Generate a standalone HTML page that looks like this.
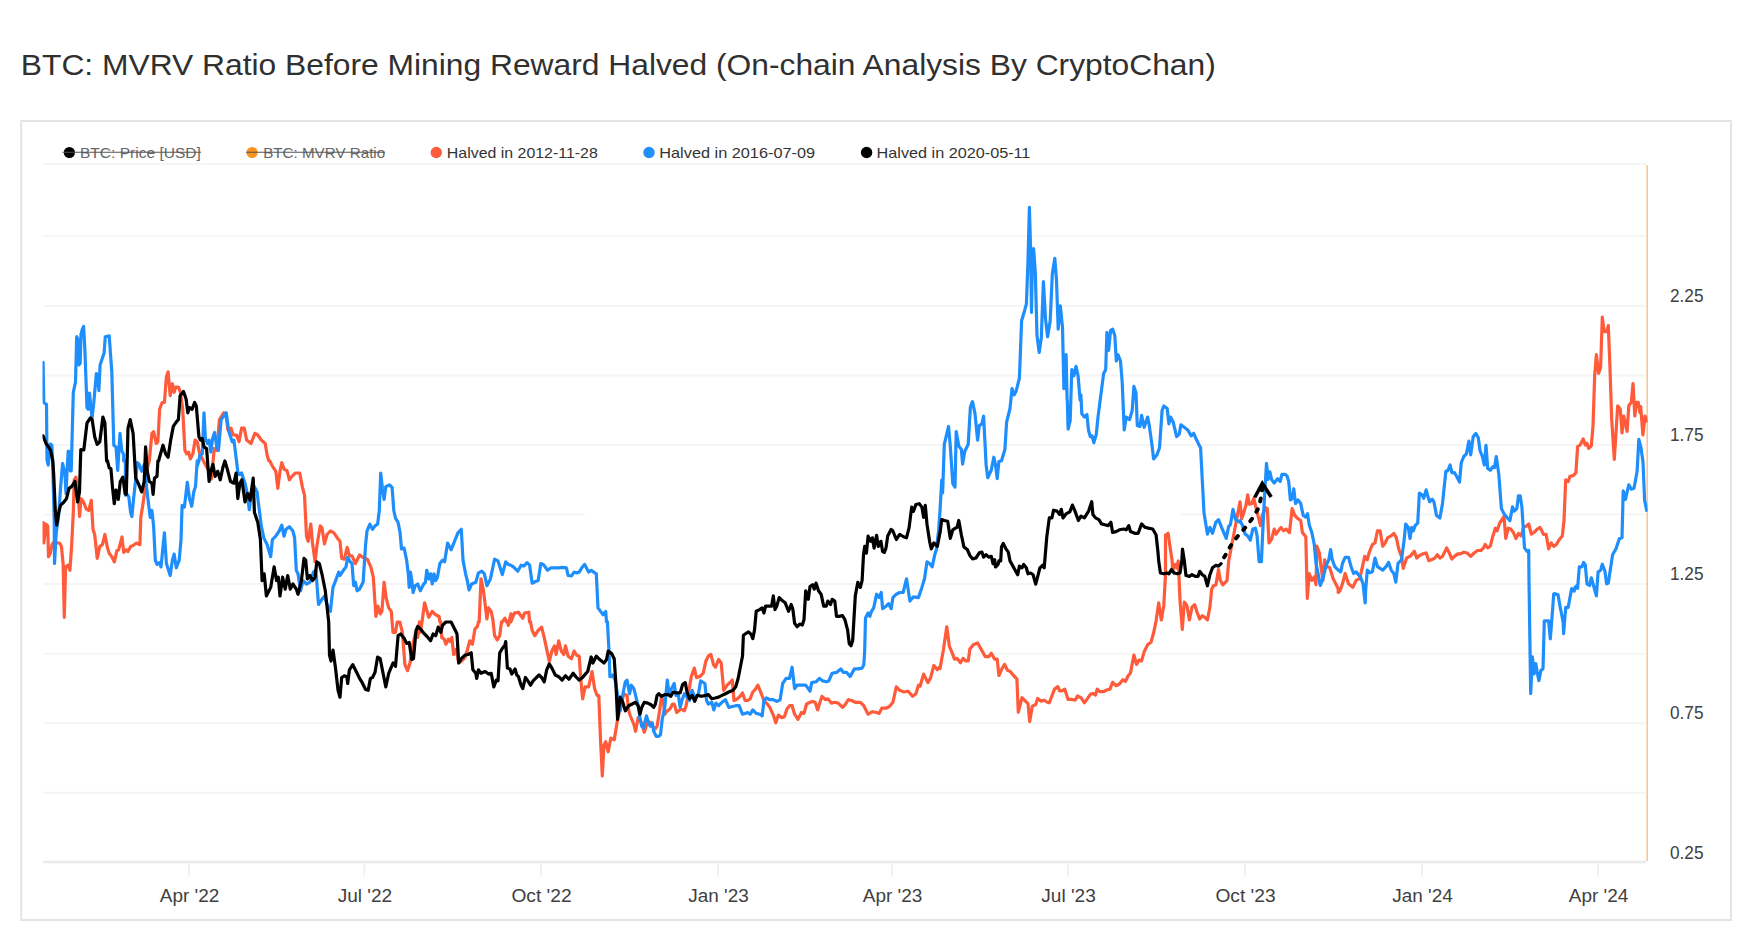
<!DOCTYPE html>
<html><head><meta charset="utf-8"><style>
html,body{margin:0;padding:0;background:#fff;width:1756px;height:944px;overflow:hidden}
svg{position:absolute;left:0;top:0;font-family:"Liberation Sans",sans-serif}
</style></head><body>
<svg width="1756" height="944" viewBox="0 0 1756 944">
<text x="20.8" y="75" font-size="30" fill="#303030" textLength="1195" lengthAdjust="spacingAndGlyphs">BTC: MVRV Ratio Before Mining Reward Halved (On-chain Analysis By CryptoChan)</text>
<rect x="21.2" y="121" width="1709.8" height="799" fill="none" stroke="#e4e4e4" stroke-width="2"/>
<g stroke="#f5f5f5" stroke-width="2"><line x1="43" x2="1646" y1="792.8" y2="792.8"/><line x1="43" x2="1646" y1="723.2" y2="723.2"/><line x1="43" x2="1646" y1="653.7" y2="653.7"/><line x1="43" x2="1646" y1="584.1" y2="584.1"/><line x1="43" x2="1646" y1="445.0" y2="445.0"/><line x1="43" x2="1646" y1="375.4" y2="375.4"/><line x1="43" x2="1646" y1="305.9" y2="305.9"/><line x1="43" x2="1646" y1="236.3" y2="236.3"/><line x1="43" x2="1646" y1="164" y2="164"/><line x1="43" x2="585" y1="514.5" y2="514.5"/><line x1="1180" x2="1646" y1="514.5" y2="514.5"/></g>
<line x1="43" x2="1646" y1="862" y2="862" stroke="#eaeaea" stroke-width="2.4"/>
<g stroke="#f1f1f1" stroke-width="2"><line x1="189" x2="189" y1="862" y2="876"/><line x1="364.4" x2="364.4" y1="862" y2="876"/><line x1="541" x2="541" y1="862" y2="876"/><line x1="718" x2="718" y1="862" y2="876"/><line x1="892" x2="892" y1="862" y2="876"/><line x1="1068" x2="1068" y1="862" y2="876"/><line x1="1245" x2="1245" y1="862" y2="876"/><line x1="1422" x2="1422" y1="862" y2="876"/><line x1="1598" x2="1598" y1="862" y2="876"/></g>
<line x1="1647.2" x2="1647.2" y1="165" y2="861" stroke="#f9c081" stroke-width="1.4"/>
<g font-size="17.5" fill="#404040"><text x="189.5" y="902" text-anchor="middle" textLength="59.5" lengthAdjust="spacingAndGlyphs">Apr '22</text><text x="364.9" y="902" text-anchor="middle" textLength="54.5" lengthAdjust="spacingAndGlyphs">Jul '22</text><text x="541.5" y="902" text-anchor="middle" textLength="60.2" lengthAdjust="spacingAndGlyphs">Oct '22</text><text x="718.5" y="902" text-anchor="middle" textLength="60.5" lengthAdjust="spacingAndGlyphs">Jan '23</text><text x="892.5" y="902" text-anchor="middle" textLength="59.5" lengthAdjust="spacingAndGlyphs">Apr '23</text><text x="1068.5" y="902" text-anchor="middle" textLength="54.5" lengthAdjust="spacingAndGlyphs">Jul '23</text><text x="1245.5" y="902" text-anchor="middle" textLength="60.2" lengthAdjust="spacingAndGlyphs">Oct '23</text><text x="1422.5" y="902" text-anchor="middle" textLength="60.5" lengthAdjust="spacingAndGlyphs">Jan '24</text><text x="1598.5" y="902" text-anchor="middle" textLength="59.5" lengthAdjust="spacingAndGlyphs">Apr '24</text><text x="1670" y="719.2" textLength="33.5" lengthAdjust="spacingAndGlyphs">0.75</text><text x="1670" y="580.1" textLength="33.5" lengthAdjust="spacingAndGlyphs">1.25</text><text x="1670" y="441.0" textLength="33.5" lengthAdjust="spacingAndGlyphs">1.75</text><text x="1670" y="301.9" textLength="33.5" lengthAdjust="spacingAndGlyphs">2.25</text><text x="1670" y="858.5" textLength="33.5" lengthAdjust="spacingAndGlyphs">0.25</text></g>
<g font-size="15" fill="#333">
 <circle cx="69.4" cy="152.5" r="5.6" fill="#000"/>
 <text x="80" y="158" fill="#666" textLength="120.8" lengthAdjust="spacingAndGlyphs">BTC: Price [USD]</text>
 <line x1="62.4" x2="201" y1="152.3" y2="152.3" stroke="#555" stroke-width="1.1"/>
 <circle cx="252.1" cy="152.5" r="5.6" fill="#f7931e"/>
 <text x="263.2" y="158" fill="#666" textLength="122" lengthAdjust="spacingAndGlyphs">BTC: MVRV Ratio</text>
 <line x1="246" x2="385" y1="152.3" y2="152.3" stroke="#555" stroke-width="1.1"/>
 <circle cx="436.3" cy="152.5" r="5.7" fill="#fd5c40"/>
 <text x="446.8" y="158" textLength="151" lengthAdjust="spacingAndGlyphs">Halved in 2012-11-28</text>
 <circle cx="649" cy="152.5" r="5.7" fill="#238ffb"/>
 <text x="659.3" y="158" textLength="155.8" lengthAdjust="spacingAndGlyphs">Halved in 2016-07-09</text>
 <circle cx="866.6" cy="152.5" r="5.7" fill="#000"/>
 <text x="876.6" y="158" textLength="153.8" lengthAdjust="spacingAndGlyphs">Halved in 2020-05-11</text>
</g>
<defs><clipPath id="pc"><rect x="42.5" y="150" width="1605" height="720"/></clipPath></defs>
<g fill="none" stroke-width="3.2" stroke-linejoin="round" stroke-linecap="round" clip-path="url(#pc)">
<path d="M43.4,522.5 L43.8,543 L46,524.2 L47.7,525.9 L48.5,556.7 L50.3,553.3 L52,544.7 L54.5,541.3 L57.1,543 L59.6,543 L61.4,546.4 L63.1,563.5 L64.3,617.3 L65.6,566.9 L68.2,565.2 L69.9,570.3 L71.6,546.4 L73.3,512.3 L74.2,479.8 L75.9,477.2 L78.4,495.2 L79.6,516.5 L81,498.6 L83.6,502 L86.1,508.8 L88.7,510.5 L91.3,500.3 L93,529.3 L94.7,534.5 L97.2,558.4 L99.8,546.4 L102.4,544.7 L104.9,534.5 L107.5,548.1 L109.2,553.3 L111.8,556.7 L114.3,561.8 L116.9,550.7 L118.6,549.8 L122,537 L123.7,552.4 L126.3,549.8 L128,551.6 L130.6,546.4 L133.1,545.6 L136.5,543 L139.9,544.7 L140.8,517.4 L142.5,507.1 L144.2,495.2 L146.8,469.5 L149.3,460.9 L149.3,461 L151.9,433.3 L153.6,431.6 L156.2,443.5 L157.9,441.8 L159.6,409.3 L162.2,402.5 L164.4,402.5 L166.4,376.9 L168.1,371.8 L170.2,395.7 L172.4,383.7 L174.1,392.3 L175.8,387.1 L178.4,387.1 L180.4,392.3 L182.7,409.3 L184.9,450.4 L186.6,453.8 L188.6,452.1 L190.4,458.9 L192.9,453.8 L195.1,440.1 L197.2,441.8 L199.7,453.8 L205,464 L209.5,472 L211.3,479 L214.3,448.6 L216.8,450.4 L219.4,419.6 L223.7,412.8 L226.2,416.2 L227.9,429.8 L231,428.1 L233.1,435 L236.5,435 L239,441.8 L241.6,428.1 L244.2,428.1 L246.7,440.1 L251,443.5 L254.9,433.3 L257.8,435 L261.3,440.1 L265.2,443.5 L267.2,455.5 L268.9,461 L269.8,460.9 L272.4,466.1 L275.8,471.3 L277.8,488.3 L280,471.3 L281.8,462.7 L284.3,469.5 L286.9,470.4 L289.4,479.8 L292,476.4 L295.4,473 L299.7,473 L302.3,486.6 L304.5,495.2 L306.5,536.2 L308.2,541.3 L310.8,524.2 L312.5,543 L315.1,561.8 L316.8,546.4 L320.2,525.9 L321.9,527.6 L324.5,543.9 L327,534.5 L330.4,531 L333.9,532.8 L337.3,537.9 L340,541.3 L341.7,558.4 L344.3,559.2 L347.2,547.3 L349.4,555.8 L352,555.8 L355.4,563.5 L359.6,555 L363.1,557.5 L367.3,559.2 L370.8,566.9 L373.3,577.2 L375.9,616.5 L377.9,606.2 L380.2,613.9 L381.9,611.4 L384.1,582.3 L386.1,597.7 L388.7,607.9 L391.3,611.4 L392.1,622 L393,632.3 L395.5,632.3 L397.2,622 L399.8,622 L402.4,632.3 L404.9,664.7 L407.5,670.7 L410,663 L412.6,645.9 L415.2,634 L417.7,637.4 L419.4,621.9 L420.3,632.3 L422,622 L424.6,602.8 L428.8,617.3 L432.3,611.4 L435.7,614.8 L439.1,616.5 L439.9,622 L440.8,621.9 L441.7,637.4 L444.2,639.1 L445.9,644.2 L448.5,639.1 L450.2,641.6 L451.9,637.4 L453.6,654.5 L456.2,649.3 L458.7,663 L461.3,661.3 L464.7,657.9 L467.3,650.2 L469.8,640.8 L472.4,644.2 L475,628.8 L477.5,626.3 L478.4,621.9 L479.2,622 L481,578.9 L483.5,590.8 L486.9,619 L488.6,607.9 L491.2,611.4 L492.9,619.9 L494.6,635.7 L497.2,639.9 L499.7,635.7 L501.5,621.9 L502.3,622 L504.9,618.2 L506.6,622 L507.4,621.9 L508.3,625.4 L510.9,613.9 L510.9,622 L514.3,613.1 L518.5,612.2 L520.2,614.8 L522.8,618.2 L524.5,613.1 L528.8,612.2 L529.6,622 L530.5,621.9 L532.2,630.5 L534.8,635.7 L538.2,630.5 L541.6,627.1 L544.2,637.4 L546.7,649.3 L549.3,661.3 L551.9,651 L554.4,645.9 L556.1,654.5 L558.7,640.8 L561.3,651 L563.8,654.5 L565.5,645.9 L568.1,656.2 L571.5,658.7 L574.1,651 L576.6,655.3 L579.2,656.2 L580.9,680.1 L582.6,698.9 L585.2,686.9 L588.6,686.9 L592,671.5 L594.6,688.6 L597.1,695.5 L598.8,695.5 L600.6,741.6 L602.3,775.8 L604,745 L605.7,741.6 L608.2,751.8 L610.8,738.2 L614.2,739.9 L617.6,719.4 L621.1,705.7 L623.6,693.8 L627,695.5 L628.7,710.8 L630.4,716 L633.9,724.5 L635.6,731.3 L638.1,717.7 L640,719.4 L640,719.3 L642.6,726.2 L644.3,732.2 L646.8,724.5 L649.4,721.9 L652,726.2 L655.4,728.7 L657.1,726.2 L659.6,710.8 L661.4,697.1 L663.1,698.8 L664.8,714.2 L667.3,710.8 L669.9,709.1 L672.5,704 L674.2,704 L676.7,712.5 L681,709.1 L684.4,710.8 L686.1,705.7 L688.7,692 L691.3,676.6 L694.3,668.1 L696.4,677.5 L699.8,676.6 L703.2,673.2 L705.8,661.3 L708.3,656.1 L710.9,654.4 L713.5,664.7 L715.5,667.2 L718.6,659.5 L721.2,663 L723.7,690.3 L727.1,685.2 L730.6,681.8 L732.3,680 L734,700.5 L737.4,698.8 L740.8,695.4 L742.5,692.9 L745.1,700.5 L747.6,700.5 L750.2,698.8 L752.8,692 L755.3,689.4 L757.9,685.2 L761.3,693.7 L763.9,700.5 L767.3,704 L769.8,707.4 L773.3,715.1 L775.8,722.8 L778.4,715.1 L781.8,717.6 L784.4,716.8 L786.9,709.1 L789.5,705.7 L792.1,705.7 L794.6,714.2 L798,719.3 L801.5,712.5 L804,713.4 L806.6,704 L810,702.3 L812.6,701.4 L815.1,702.3 L817.7,709.9 L819.4,704 L822,696.3 L825.4,699.7 L827.9,698.8 L831.4,703.1 L834.8,702.3 L838.2,703.1 L842.5,707.4 L845,704.8 L848.4,699.7 L851.9,700.5 L855.3,702.3 L860.4,702.3 L863.8,705.7 L868.1,714.2 L872.4,711.7 L876.6,712.5 L879.2,713.4 L881.8,708.2 L886,708.2 L889.4,706.5 L892.9,702.3 L896.3,686.9 L899.7,690.3 L904,692 L908.2,691.2 L912.5,696.3 L915.9,693.7 L918.5,685.2 L920.2,686 L923.6,674.1 L927.9,682.6 L930.4,678.3 L933.9,665.5 L937.3,669.8 L940,666.4 L940,668.6 L943.4,649.8 L946.8,626.8 L949.4,646.4 L952,652.4 L954.5,659.2 L957.1,658.4 L960.5,662.7 L963.1,658.4 L965.6,660.9 L968.2,660.9 L969.9,649 L973.3,644.7 L977.6,643 L981,649 L985.3,656.7 L988.7,656.7 L991.3,653.3 L994.7,659.2 L997.2,659.2 L998.9,675.5 L1001.5,669.5 L1004.6,664.4 L1007.5,670.3 L1010,671.2 L1013.5,675.5 L1016.9,678.9 L1018.3,712.2 L1022,697.7 L1025.4,701.1 L1028,703.7 L1029.7,721.6 L1032.3,706.2 L1035.7,704.5 L1037.7,698.5 L1040.8,701.1 L1044.2,700.2 L1046.8,702 L1049.3,702.8 L1051.9,696 L1054.5,689.1 L1057.9,686.6 L1059.6,690.8 L1062.2,690.8 L1064.7,689.1 L1068.1,699.4 L1071.6,699.4 L1075,700.2 L1077.5,696 L1081,697.7 L1084.4,702.8 L1086.9,699.4 L1090.4,694.3 L1092.9,693.4 L1095.5,695.1 L1097.2,689.1 L1099.7,691.7 L1103.2,691.7 L1106.6,690 L1110,689.1 L1112.6,682.3 L1116,685.7 L1119.4,684 L1122.8,679.7 L1125.4,681.5 L1127.9,676.3 L1130.5,672.9 L1133.9,655 L1136.5,664.4 L1139,660.1 L1141.6,660.9 L1144.2,651.6 L1147.6,644.7 L1151,642.2 L1153.6,632.8 L1156.1,620.8 L1158.7,602.9 L1161.3,619.9 L1163.8,605.4 L1165.5,574.7 L1165.5,535 L1168.1,533.3 L1169.8,545.2 L1172,559.7 L1172.7,570.4 L1174.9,564.4 L1176.6,567.8 L1178.3,561 L1180,600.3 L1182.3,629.3 L1184.3,602 L1186.9,605.4 L1189.4,619.9 L1192,607.1 L1194.6,604.6 L1197.1,612.3 L1199.7,619.1 L1202.3,615.7 L1204.8,617.4 L1207.4,619.9 L1209.9,607.1 L1211.7,589.2 L1213.4,585.8 L1215.9,584.9 L1218.5,569.5 L1220.2,579.8 L1222.8,584.9 L1227,580.6 L1228.7,561 L1240,501.8 L1241.7,518.8 L1243.4,513.7 L1246,505.2 L1247.7,494.9 L1249.4,504.3 L1252,503.5 L1253.7,498.3 L1256.2,508.6 L1258.8,518.8 L1260.5,525.7 L1262.2,515.4 L1265.6,507.7 L1267.3,508.6 L1269,542.8 L1271.6,539.3 L1274.2,529.1 L1275.9,534.2 L1278.4,530.8 L1281,527.4 L1283.6,530.8 L1286.1,529.1 L1289.5,532.5 L1292.1,508.6 L1294.7,515.4 L1298.1,518.8 L1300.7,520.6 L1302.4,532.5 L1305.8,536.8 L1307.3,598.5 L1309.2,573.5 L1311.8,580.4 L1314.3,576.9 L1316,584.6 L1316.9,546.2 L1319.4,553 L1321.2,568.4 L1322.9,580.4 L1324.6,559.8 L1327.1,566.7 L1329.7,567.5 L1333.1,578.6 L1335.7,583.8 L1338.2,588.9 L1338.2,592.5 L1339.9,590.9 L1342.5,583.8 L1345.1,573.5 L1348.5,583.8 L1352.8,587.2 L1356.2,580.4 L1359.6,578.6 L1361.3,571.8 L1364.7,556.4 L1367.3,559.8 L1369,553 L1372.4,544.5 L1375,542.8 L1377.5,530.8 L1380.1,530.8 L1382.7,546.2 L1385.2,542.8 L1387.8,537.6 L1391.2,535.9 L1393.8,533.4 L1396.3,537.6 L1398.9,549.6 L1401.5,556.4 L1403.2,568.4 L1406.6,558.1 L1410.9,555.6 L1414.3,551.3 L1416.8,558.1 L1419.4,555.6 L1422.8,553.9 L1426.2,553 L1428.8,560.7 L1431.4,559.8 L1434.8,558.1 L1437.3,554.7 L1439.9,558.1 L1442.5,556.4 L1446.7,547.9 L1449.3,553 L1451.9,559 L1454.4,556.4 L1457.8,553.9 L1460.4,553.9 L1463.8,552.2 L1467.2,553 L1470.7,556.4 L1474.1,553 L1477.5,550.5 L1480.9,550.5 L1483.5,547.9 L1485.2,544.5 L1487.7,547.9 L1490.3,546.2 L1492.9,535.9 L1495.4,528.2 L1497.1,530.8 L1499.7,523.1 L1504,516.3 L1505.7,538.5 L1508.2,528.2 L1510.8,529.1 L1513.4,532.5 L1515.9,538.5 L1518.5,533.4 L1521.1,535.9 L1523.6,527.4 L1527,525.7 L1528.7,524 L1531.3,534.2 L1533.9,532.5 L1537.3,529.1 L1540,527.4 L1543.5,534.3 L1546.1,534.3 L1548.6,548.8 L1551.2,542.9 L1553.7,546.3 L1556.3,544.6 L1558.8,540.3 L1562.3,536.1 L1564,520.7 L1565.7,479.8 L1568.2,481.5 L1569.9,476.4 L1573.3,475.5 L1575.9,472.9 L1577.6,446.7 L1580.2,445 L1583.2,439 L1585.3,445 L1587,443.3 L1588.7,448.4 L1591.3,445.8 L1593,426.2 L1594.7,375.1 L1596.4,354.6 L1598.6,373.3 L1600.6,367.4 L1602.3,317.1 L1604.1,331.6 L1606.6,331.6 L1608.3,325.6 L1610,368.2 L1611.7,419.4 L1614.3,459.5 L1617.7,405.8 L1620.3,409.2 L1622,433 L1623.7,416 L1627.1,431.3 L1628.8,405.8 L1631.3,402.3 L1633,383.6 L1634.8,416 L1636.5,402.3 L1638.2,402.3 L1639.9,412.6 L1640.7,406.6 L1642.9,434.8 L1645,416 L1647,421.1" stroke="#ff5a3a"/>
<path d="M43.1,362.4 L43.8,402.5 L45.1,403.4 L46.2,404.6 L46.5,404.5 L47,460 L48.2,465 L50.4,444 L51.9,445.5 L52.8,465 L54.2,520 L54.5,563.5 L56.2,532.8 L58.5,517.4 L60.5,488.3 L62.6,463.6 L64.8,473 L66,493.5 L67.3,466.1 L68.2,451.2 L69.9,452.1 L70.4,471 L71.2,471 L73.3,392.3 L75.5,382 L76.7,336.7 L77.9,339.3 L79,364.9 L80.2,363.2 L81,334.2 L82.4,329 L83.6,326.5 L84.8,347.8 L87,407.6 L88.2,409.3 L89.5,393.1 L91.3,411.1 L92.1,417.9 L93.8,402.5 L95,388.8 L96.4,373.5 L97.7,376.9 L98.9,390.6 L100.1,364.9 L102.4,358.1 L104.1,353 L105.3,336.7 L109.2,335.9 L111.8,371.8 L113.8,445.2 L116,446.9 L117.7,470.4 L120,433.3 L121.7,450.4 L123.7,454.6 L123.7,461 L125.4,460.9 L125.4,495.2 L127.1,494.3 L128.8,496.9 L130.6,512.3 L131.9,516.5 L133.6,498.6 L135.7,479.8 L137.4,462.7 L139.1,464.4 L141.7,471.3 L144.2,464.4 L145.9,481.5 L148.5,503.7 L150.2,517.4 L151.9,510.5 L153.6,525.9 L155.3,560.1 L157,564.4 L159.6,562.7 L161,566.9 L162.7,549.8 L164.4,532.8 L166.4,563.5 L170.2,575.5 L172.4,560.1 L174.1,554.1 L176.3,567.8 L179.2,560.1 L181,539.6 L182.1,505.4 L184.4,507.1 L187.3,482.4 L189.5,498.6 L191.7,506.3 L193.8,491.8 L195.5,486.6 L197.2,460.9 L197.2,466.1 L198.9,461 L199.7,455.5 L202.3,453.8 L204,412.8 L205.4,438.4 L207.4,443.5 L209.1,440.1 L210.9,452.1 L212.6,438.4 L214.6,432.4 L216.8,446.9 L218.5,450.4 L221.1,419.6 L223.7,416.2 L226.2,412.8 L228.8,431.6 L232.2,441.8 L233.9,440.1 L236.5,460.9 L236.5,461 L238.2,474.7 L241.6,473 L245,483.2 L247.6,495.2 L249.3,509.7 L251.9,490 L254.4,486.6 L257,491.8 L258.7,505.4 L261.3,525.9 L263.8,537.9 L267.2,544.7 L270.7,556.7 L272.4,539.6 L275.8,536.2 L279.2,531 L281.8,525.1 L284,536.2 L286,529.3 L289.4,526.8 L292.9,531 L294.6,537.9 L296.3,570.3 L298,573.8 L300.6,590.8 L303.1,580.6 L306.5,584 L309.9,582.3 L313.4,572.1 L315.9,570.3 L318.5,604.5 L321.9,599.4 L324.5,596 L327,604.5 L330.4,611.4 L333,587.4 L335.6,580.6 L338.7,572.1 L340,575.5 L343.4,570.3 L346,566.9 L347.7,557.5 L350.3,561.8 L352,563.5 L353.7,585.7 L355.4,582.3 L357.1,590.8 L359.6,589.1 L363.1,582.3 L365.6,544.7 L367,531 L369.9,524.2 L372.5,529.3 L375,525.9 L377.6,524.2 L379.3,510.5 L380.7,473 L382.4,488.3 L384.1,499.4 L385.8,486.6 L389.5,484.9 L392.1,487.5 L393.8,510.5 L395.5,518.2 L398.1,522.5 L400.1,532.8 L401.5,549 L404.1,548.1 L406.6,560.1 L408.3,573.8 L409.2,587.4 L410.4,572.1 L411.8,580.6 L413.1,592.6 L415.2,585.7 L417.7,584 L420.3,590.8 L423.7,584 L425.4,582.3 L426.8,570.3 L428.8,578.9 L430.6,573.8 L432.3,584 L434,573.8 L435.7,580.6 L437.4,577.2 L439.9,563.5 L442.5,560.1 L444.6,561.8 L447.6,543 L451.1,549.8 L454.5,541.3 L457.9,532.8 L461.3,529.3 L463,560.1 L465.6,573.8 L467.3,580.6 L469,590 L471.6,584 L475.8,582.3 L478.4,572.9 L481.8,571.2 L484.4,573.8 L486.9,585.7 L490.4,578.9 L494.6,559.2 L498,560.9 L502.3,574.6 L505.7,561.8 L508.3,564.4 L510.9,565.2 L513.4,566.9 L517.7,571.2 L521.1,565.2 L523.7,566.1 L527.1,562.7 L529.6,565.2 L532.2,583.2 L535.6,581.5 L538.2,580.6 L540.8,563.5 L543.3,564.4 L547.6,570.3 L551,567.8 L554.4,567.8 L558.7,567.8 L562.1,567.3 L566.4,567.8 L568.1,575.5 L571.5,575.8 L574.1,572.1 L576.6,572.9 L579.2,572.1 L581.8,567.8 L584.7,564.4 L588.6,572.1 L591.2,570.3 L593.7,572.1 L596.3,573.8 L598,607.9 L600.6,611.4 L603.1,614.8 L605.7,611.4 L606.5,622 L607.4,621.9 L609.1,652.8 L609.9,676.7 L612.5,675 L615.1,680.1 L616.8,690.3 L620.2,710.8 L623.6,690.3 L625.3,681.8 L627,680.1 L629.6,693.8 L631.3,685.2 L633.9,688.6 L636.4,698.9 L639,709.1 L640,719.4 L640,717.6 L641.7,726.2 L643.4,727.9 L646.5,715.9 L648.5,722.8 L650.3,726.2 L652.3,722.8 L653.7,731.3 L656.2,736.4 L658.8,736.4 L660.5,734.7 L662.2,719.3 L664.8,707.4 L667.3,680 L669,693.7 L671.6,688.6 L674.2,683.5 L675.9,695.4 L678.4,695.4 L680.2,707.4 L681.9,700.5 L684.4,693.7 L687,697.1 L689.5,700.5 L692.1,690.3 L694.7,697.1 L698.1,695.4 L700.7,680.9 L704.9,683.5 L706.6,700.5 L708.3,704 L711.8,702.3 L713.8,709.9 L716,703.1 L718.6,705.7 L722,702.3 L725.4,699.7 L728.8,707.4 L732.3,706.5 L735.7,705.7 L739.1,705.7 L742.5,714.2 L745.1,713.4 L747.6,712.5 L750.2,714.2 L752.8,709.9 L756.2,713.4 L759.6,714.2 L762.2,715.9 L763.9,700.5 L766.4,698 L769.8,699.7 L773.3,699.7 L776.7,701.4 L780.1,699.7 L782.7,683.5 L786.1,678.3 L789.5,678.3 L792.1,667.2 L794.6,688.6 L797.2,685.2 L801.5,685.2 L805.7,685.2 L808.3,688.6 L810,691.2 L811.7,682.6 L816,681.8 L819.4,678.3 L822.8,680.9 L826.2,681.8 L828.8,680.9 L832.2,673.2 L836.5,672.4 L840.8,668.9 L843.3,672.4 L846.7,672.4 L850.1,676.6 L854.4,668.9 L857.8,668.9 L862.1,668.1 L863.8,664.7 L864.7,651 L865.5,618.1 L868.1,613 L869.8,616.4 L871.5,611.3 L873.7,607.9 L876.6,594.2 L879.2,597.6 L881.2,592.5 L882.6,608.7 L886,606.2 L888.6,603.6 L891.2,608.7 L892.9,597.6 L896.3,594.2 L899.7,592.5 L903.1,592.5 L906.5,578.8 L909.9,601.1 L913.4,596.8 L918.5,597.6 L921.9,587.4 L924.5,578.8 L927,561.8 L929.6,563.5 L932.2,566.9 L934.7,554.9 L936.4,549.6 L938.6,530.4 L940.1,509.6 L941.7,480 L942.6,493 L944.3,444.4 L948.5,426.5 L950.3,446.1 L952.8,483.7 L955,487.1 L956.2,431.6 L958.8,446.1 L961.4,449.5 L962.6,464.1 L964.8,451.3 L968.2,444.4 L970.4,406.8 L972.5,401.7 L975,413.7 L977.6,440.2 L979.3,425.6 L981.9,423.9 L983.6,416.2 L986.1,464.9 L987.8,477.7 L991.3,470 L993.8,457.2 L995.5,464.9 L997.2,478.6 L998.9,461.5 L1001.5,460.7 L1004.9,449.5 L1006.6,422.2 L1010,408.5 L1012,388.6 L1014.2,394.9 L1016.3,390.7 L1019.4,378 L1021.6,320.8 L1024.7,310.2 L1026.4,303.8 L1027.9,263.6 L1029.4,207.4 L1030.7,253 L1031.5,312.3 L1032.6,250.8 L1033.6,248.7 L1035.3,272 L1037,335.6 L1039.2,352.5 L1041.3,337.7 L1043.4,281.6 L1045.5,318.6 L1047.6,336.7 L1050.2,320.8 L1052.3,274.2 L1054.8,258.3 L1056.5,280.5 L1058.2,329.2 L1060.3,305.9 L1062.5,327.1 L1063.9,388.6 L1066.1,354.7 L1067.1,400 L1067.3,400 L1068.1,429 L1070.2,420.5 L1071.8,369.5 L1073.9,375.8 L1076,366.3 L1078.1,375.8 L1080.1,400 L1080.9,394.9 L1081.8,413.7 L1084.4,417.1 L1086.9,414.5 L1088.6,430.8 L1090.4,436.7 L1092.1,435.9 L1093.8,442.7 L1096.3,434.2 L1098,417.1 L1101.4,390.7 L1103.6,373.7 L1105.7,369.5 L1106.9,332.4 L1108.6,350.4 L1110.6,330.3 L1112.7,329.2 L1114.8,335.6 L1116.3,361 L1118,354.7 L1120.5,361 L1122.2,382.2 L1124.2,429.9 L1126.2,417.1 L1129.6,419.6 L1132.2,410.3 L1133.9,386.4 L1136,392.8 L1137.3,425.6 L1139.9,426.5 L1141.6,415.4 L1144.2,427.3 L1147.6,417.1 L1149.3,425.6 L1151.9,444.4 L1153.6,458.9 L1157,454.7 L1159.5,447.8 L1162.1,410.3 L1163.8,406 L1167.2,408.5 L1168.9,423.9 L1170.7,417.1 L1173.2,422.2 L1176.6,436.7 L1179.2,434.2 L1180.9,424.8 L1184.3,427.3 L1187.7,429.9 L1191.2,435.9 L1193.7,433.3 L1196.3,439.3 L1198.8,444.4 L1200.6,447.8 L1204,512.8 L1207.4,534.1 L1209.9,527.3 L1212.5,533.3 L1215.9,522.2 L1218.5,519.6 L1221.9,528.1 L1226.2,538.4 L1228.7,526.4 L1230.4,524.7 L1233,509.3 L1235.6,519.6 L1238.1,521.3 L1240,522.2 L1240,520.6 L1242.6,525.7 L1245.1,534.2 L1247.7,535.9 L1250.3,540.2 L1252.8,529.1 L1255.4,528.2 L1257.1,535.9 L1259.1,561.6 L1261.4,561.6 L1263.1,524 L1264.8,491.5 L1266.5,463.3 L1268.2,479.5 L1269.9,471.9 L1271.6,479.5 L1274.2,483 L1277.6,478.7 L1280.2,481.3 L1281.9,474.4 L1285.3,474.4 L1287,476.1 L1288.7,481.3 L1290.4,500 L1292.1,498.3 L1293.8,488.9 L1295.5,503.5 L1298.1,500 L1300.7,503.5 L1303.2,515.4 L1305.8,517.1 L1307.5,513.7 L1309.2,524.8 L1311.8,532.5 L1314.3,544.5 L1316,563.3 L1317.7,571.8 L1320.3,585.5 L1322.9,578.6 L1325.4,568.4 L1327.1,563.3 L1328.8,559.8 L1330.6,549.6 L1332.3,559.8 L1334.8,566.7 L1338.2,570.1 L1340.8,571.8 L1342.5,563.3 L1345.1,557.3 L1348.5,557.3 L1351.1,566.7 L1353.6,573.5 L1356.2,571.8 L1358.7,575.2 L1360.5,576.9 L1363,583.8 L1365.2,603 L1365.6,590.9 L1367.3,570.1 L1369.8,572.7 L1372.4,571.8 L1375,558.1 L1377.5,566.7 L1380.1,568.4 L1382.7,570.1 L1386.1,566.7 L1388.6,562.4 L1391.2,570.1 L1393.8,573.5 L1395.8,582.1 L1398,563.3 L1401.5,559.8 L1404,541.1 L1405.7,524 L1408.3,527.4 L1410,538.5 L1411.7,527.4 L1413.4,530.8 L1415.1,525.7 L1417.7,523.1 L1419.4,493.2 L1422,494.9 L1423.7,498.3 L1426.2,489.8 L1427.9,496.6 L1429.6,501.8 L1432.2,499.2 L1433.9,501.8 L1436.5,515.4 L1439.9,518 L1442.5,503.5 L1445.9,471 L1447.6,471 L1450.1,465 L1451.9,472.7 L1454.4,472.7 L1457,477 L1459.5,482.1 L1461.3,462.5 L1463.8,456.5 L1466.4,453.9 L1468.9,441.1 L1470.7,454.8 L1473.2,436.8 L1475.8,433.4 L1478.3,437.7 L1480,450.5 L1482.6,457.3 L1484.3,465 L1486,445.4 L1487.7,468.4 L1490.3,470.2 L1492.9,466.7 L1494.6,467.6 L1496.3,456.5 L1498.8,474.4 L1501.4,508.6 L1504,513.7 L1507.4,518 L1509.9,520.6 L1512.5,506.9 L1514.2,511.2 L1516.8,508.6 L1518.5,495.8 L1520.2,495.8 L1521.9,506.9 L1524.5,547.9 L1527,551.3 L1528.7,550.5 L1529,580 L1530.7,693.4 L1532.4,656.8 L1534.1,673.8 L1535.8,663.6 L1537.2,672.1 L1538.9,680.6 L1540.9,670.4 L1543,668.7 L1544.3,620.9 L1548.6,620.9 L1550.3,638.8 L1552.9,605.6 L1553.7,594 L1554.6,593.6 L1558,594.9 L1558,594.5 L1560.6,609.4 L1560.6,609 L1563.1,622 L1563.6,633.7 L1565.7,607.7 L1565.7,607.3 L1567.4,607.7 L1568.2,607.3 L1571.6,588.9 L1571.6,588.5 L1574.2,591.1 L1575.1,587.2 L1575.9,586.8 L1577.6,584.7 L1577.6,588.5 L1579.3,566.8 L1581.9,566.8 L1583.6,562.5 L1585.3,565.1 L1587,583.8 L1589.6,585.5 L1591.3,577.8 L1593,583.8 L1596.4,595.8 L1598.1,571.9 L1600.6,570.2 L1602.3,564.2 L1604.9,571 L1606.6,583.8 L1608.3,583 L1612.6,554.8 L1616,548.8 L1619.4,538.6 L1622,537.8 L1623.2,490.9 L1625.4,499.4 L1628.8,484.9 L1631.3,489.1 L1633.9,488.3 L1634.6,485 L1637.1,471.5 L1638.8,439.3 L1641,448 L1643,462 L1644.6,500.2 L1646.7,510.5" stroke="#1f8efd"/>
<path d="M43.1,435.8 L46,443.5 L48.5,446.9 L50.6,450.4 L52.8,460.9 L52.8,461 L53.7,474.7 L55.4,512.3 L56.7,525.1 L58.8,512.3 L60.5,505.4 L63.9,502 L66.5,498.6 L69,488.3 L71.6,486.6 L75,481.5 L77.6,502 L79.5,492 L80.8,449.7 L83.8,450 L87,423 L90.4,417.9 L92.1,419.6 L94.7,436.7 L97.2,444.4 L99.8,441.8 L102.9,417 L104.9,423 L106.6,461 L107.5,460.9 L109.2,467.8 L110.9,468.7 L112.6,488.3 L114.3,503.7 L116,490 L118.3,499.4 L120.3,481.5 L122.9,477.2 L125.1,493.5 L126.3,494.3 L128,428.1 L130.2,419.6 L133.1,433.3 L135.7,478.1 L138.2,483.2 L141.7,491.8 L144.2,481.5 L145.6,446.9 L147.3,471.3 L149.3,481.5 L151.9,483.2 L153.1,494.3 L154.5,478.1 L157,476.4 L157.9,460.9 L158.7,461 L159.6,457.2 L163,445.2 L165.6,453.8 L168.1,457.2 L170.7,440.1 L173.3,426.4 L176.7,421.3 L178.4,419.6 L180.1,395.7 L183.5,391.4 L186.1,399.1 L187.8,412.8 L189.5,407.6 L192.1,409.3 L194.6,402.5 L196.3,405.9 L198.9,436.7 L200.6,440.1 L202.3,438.4 L204,446.9 L206.6,448.6 L209.1,481.5 L210.9,471.3 L212.9,464.4 L215.1,476.4 L217.7,471.3 L220.2,479.8 L222.8,467.8 L224.9,461 L227.9,471.3 L230.5,481.5 L233.9,483.2 L236.1,473 L237.8,498.6 L239.9,483.2 L241.9,479.8 L245,502 L247.6,493.5 L250.1,500.3 L253.2,478.1 L254.4,512.3 L257.8,522.5 L260.4,539.6 L262.1,580.6 L264.2,573.8 L266.4,596 L270.7,587.4 L274.1,566.9 L276.6,580.6 L278.3,577.2 L280,596 L282.6,577.2 L285.2,589.1 L287.7,575.5 L290.3,589.1 L292.9,584 L296.3,589.1 L298,594.3 L301.4,580.6 L304,558.4 L305.7,560.1 L307.4,578.9 L309.9,575.5 L312.5,580.6 L315.1,577.2 L316.8,561.8 L319.3,563.5 L321.9,573.8 L325.3,590.8 L328.7,621.9 L329.5,655 L331,661 L333,650 L335.5,668 L338,690 L340,697.2 L341.7,677.5 L344.3,675.8 L346.8,676.7 L347.7,683.5 L349.4,669.8 L352.8,664.7 L356.2,671.5 L359.6,678.4 L362.2,682.7 L365.6,689.5 L368.2,690.3 L370.4,678.4 L372.5,677.5 L375,672.4 L377.6,657 L380.2,658.7 L382.7,671.5 L385.8,686.9 L388.7,673.3 L393,663 L395.5,666.4 L398.1,635.7 L400.7,634 L404.1,638.2 L406.6,643.4 L409.2,642.5 L411.8,659.6 L413.5,658.7 L416,630.5 L417.7,626.3 L420.3,628.8 L423.7,633.1 L427.1,636.5 L430.6,640.8 L433.1,634 L435.7,635.7 L438.2,627.1 L440.8,632.3 L442.5,625.4 L445.9,622 L451.1,622 L454.5,628.8 L457,634 L458.7,663 L461.3,658.7 L464.7,655.3 L468.1,654.5 L471.2,652.8 L472.9,669.8 L475.8,673.3 L476.7,678.4 L478.4,669.8 L481,673.3 L485.2,671.5 L488.6,674.1 L491.2,673.3 L493.8,686.9 L496.3,680.1 L498,680.9 L499.7,652.8 L502.3,648.5 L504.9,645.1 L505.7,641.6 L507.4,668.1 L510,669 L511.7,674.1 L515.1,669 L516.8,675 L518.5,676.7 L521.1,685.2 L522.8,688.6 L525.4,677.5 L527.9,680.9 L530.5,685.2 L533.1,680.9 L535.6,678.4 L539,675 L541.6,677.5 L544.2,681.8 L546.7,669.8 L549.3,663.9 L551.9,668.1 L555.3,675 L558.7,676.7 L562.1,680.1 L565.5,675.8 L568.9,679.2 L573.2,673.3 L575.8,676.7 L579.2,680.1 L582.6,677.5 L586,673.3 L587.7,671.5 L591.2,657 L592.9,663 L596.3,656.2 L599.7,659.6 L604,663 L606.5,659.6 L608.2,651 L611.7,653.6 L614.2,658.7 L615.9,683.5 L617.6,719.4 L620.2,697.2 L622.8,702.3 L625.3,710.8 L628.7,705.7 L632.2,704 L635.6,702.3 L638.1,705.7 L640,714.3 L640,714.2 L641.7,707.4 L644.3,702.3 L647.7,703.1 L651.1,704.8 L653.7,707.4 L655.4,704 L657.1,695.4 L658.8,693.7 L661.4,696.3 L664.8,694.6 L668.2,694.6 L670.8,696.3 L673.3,692 L676.7,692.9 L680.2,692.9 L682.7,684.3 L685.3,682.6 L687,692 L689.5,698.8 L692.1,695.4 L694.7,701.4 L697.2,695.4 L701.5,696.3 L705.8,695.4 L708.3,694.6 L711.8,698.8 L715.2,698 L718.6,697.1 L722,695.4 L725.4,693.7 L728.8,692 L733.1,690.3 L735.7,686.9 L738.2,678.3 L740.8,664.7 L742.5,656.1 L743.4,635.2 L745.9,633.5 L748.5,631.8 L751.1,634.4 L752.8,638.6 L754.5,630.1 L756.2,611.3 L759.6,609.6 L762.2,607.9 L763.9,613 L765.6,606.2 L768.1,606.2 L771.6,606.2 L773.3,595.9 L775,609.6 L776.7,606.2 L779.2,597.6 L781.8,600.2 L785.2,602.8 L788.6,611.3 L791.2,604.5 L792.9,609.6 L794.6,623.3 L797.2,626.7 L799.7,624.1 L802.3,625 L804,619.8 L805.7,590.8 L808.3,599.3 L810,586.5 L812.6,584.8 L814.3,589.1 L816,583.1 L818.5,590.8 L821.1,594.2 L823.7,606.2 L826.2,606.2 L827.9,601.1 L830.5,604.5 L832.2,599.3 L834.8,601.1 L836.5,616.4 L839,616.4 L842.5,615.6 L845,619.8 L847.6,630.1 L849.3,643.8 L851,645.8 L852.7,640.4 L855.3,595.9 L857.8,582.3 L860.4,587.4 L862.1,580.6 L863.5,554.9 L864.7,546.4 L866.4,553.2 L868.1,536.1 L870.7,541.3 L872.4,537.8 L874.1,548.1 L876.6,535.3 L878.3,546.4 L880.9,541.3 L882.6,551.5 L884.3,552.4 L886,548.1 L887.7,536.1 L891.2,529.3 L892.9,531 L896.3,539.5 L899.7,534.4 L904,537 L906.5,537.8 L909.1,527.6 L911.7,507.1 L913.4,511.4 L915.9,504.5 L919.3,503.7 L921.9,507.1 L923.6,517.3 L925.3,505.4 L927,524.2 L929.6,541.3 L931.3,548.9 L933.9,543 L937.3,546.4 L940,532.7 L940,533.3 L941.7,519.6 L944.3,520.5 L947.7,521.3 L950.3,538.4 L952.8,529.8 L955.4,528.1 L957.1,527.3 L958.8,520.5 L961.4,535 L963.9,546.9 L967.3,549.5 L969.9,555.5 L972.5,558.9 L975.9,558 L979.3,552.9 L981.9,552.1 L983.6,557.2 L986.1,554.6 L988.7,557.2 L991.3,556.3 L993,563.6 L994.7,559.7 L995.5,567 L998.1,564.4 L998.9,560.9 L1000.7,561 L1001.5,546.9 L1003.2,543.5 L1005.8,548.6 L1008.3,552.1 L1010,560.9 L1017.7,574.7 L1019.4,566.1 L1022,567.8 L1023.7,564.4 L1026.3,567.8 L1028,573.8 L1030.6,573 L1033.1,574.7 L1035.7,584.1 L1038.2,574.7 L1039.9,567.8 L1042.5,565.3 L1044.2,567.8 L1046.8,536.7 L1049.3,517.9 L1051.9,517.9 L1053.6,510.2 L1057,511.1 L1059.6,514.5 L1061.3,509.3 L1063,517.9 L1066.4,513.6 L1069.8,511.9 L1072.4,505.1 L1075,511.1 L1078.4,520.5 L1081,516.2 L1084.4,517.9 L1088.6,511.1 L1091.7,501.7 L1092.9,514.5 L1095.5,517.9 L1098.9,519.6 L1101.5,523.9 L1104.9,524.7 L1108.3,525.6 L1110.9,522.2 L1112.6,532.4 L1116,531.6 L1119.4,529.8 L1123.7,529 L1126.2,529.8 L1128.8,525.6 L1130.5,531.6 L1134.8,533.3 L1138.2,533.3 L1141.6,523.9 L1145,527.3 L1148.4,528.1 L1152.7,529 L1156.1,535 L1157.8,550.4 L1158.7,560.9 L1158.7,561 L1160.4,573 L1163.8,573.8 L1167.2,573 L1168.9,573.8 L1171.5,569.5 L1174.1,573 L1177.5,573.8 L1180,573 L1181.8,561 L1182.5,549 L1184.3,561 L1186,575.5 L1189.4,576.4 L1192,574.7 L1195.4,576.4 L1198,576.4 L1199.7,571.3 L1202.3,574.7 L1204.8,576.4 L1207.4,585.8 L1209.9,574.7 L1212.5,567.8 L1215.9,565.3 L1218.5,566.1 L1221.1,563.6" stroke="#000"/>
</g>
<path d="M1221,562.5 L1225.4,555.2 L1230.5,546 L1237.5,536.5 L1245.8,527 L1253.4,517 L1259.1,506.9 L1261.6,494.2 L1262.3,487" fill="none" stroke="#000" stroke-width="3.9" stroke-linecap="round" stroke-dasharray="3 8.2" stroke-dashoffset="-6"/>
<path d="M1254.7,497.5 L1262.3,483.5 L1271.2,496.9" fill="none" stroke="#000" stroke-width="3.6" stroke-linejoin="miter"/>
</svg>
</body></html>
